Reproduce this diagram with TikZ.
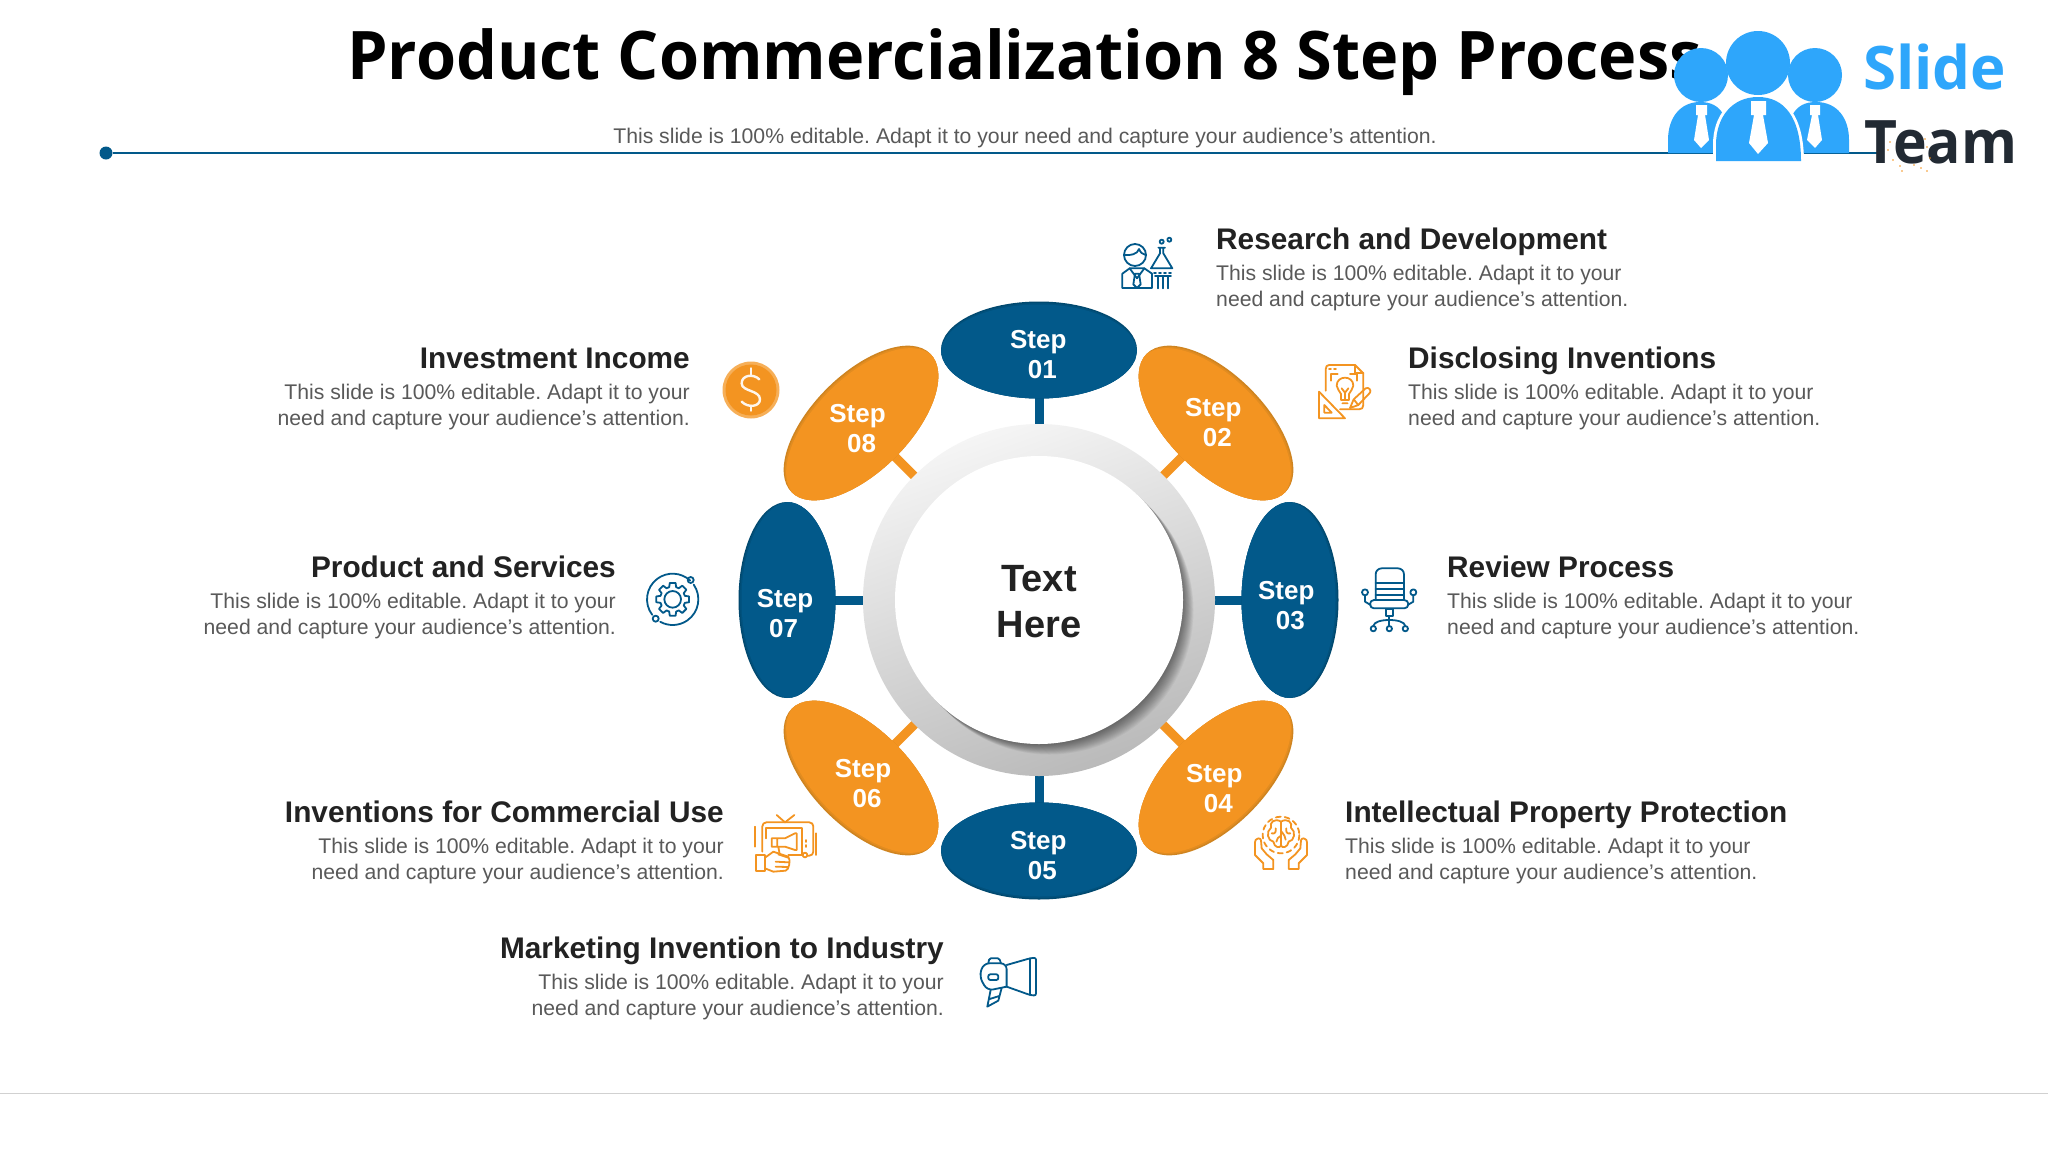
\documentclass[tikz,border=0pt]{standalone}
\usepackage{fontspec}
\setmainfont{Liberation Sans}
\newfontfamily\headfont{Open Sans}
\newfontfamily\titlefont[FakeStretch=0.967]{Open Sans}
\newfontfamily\logofont[FakeStretch=0.95]{Open Sans}
\usetikzlibrary{shapes.geometric,backgrounds,calc}
\definecolor{stepblue}{HTML}{02598A}
\definecolor{stepblueedge}{HTML}{01496F}
\definecolor{steporange}{HTML}{F39421}
\definecolor{steporangeedge}{HTML}{CF8420}
\definecolor{headtext}{HTML}{222222}
\definecolor{bodytext}{HTML}{595959}
\definecolor{logoblue}{HTML}{2EA6FB}
\definecolor{logodark}{HTML}{222A33}
\tikzset{
  blob/.style={ellipse,inner sep=0pt,minimum width=196pt,minimum height=97pt},
  steptext/.style={text=white,font=\fontsize{26}{30}\selectfont\bfseries,align=center,inner sep=0pt},
  lbltitle/.style={text=headtext,font=\fontsize{29.8}{34}\selectfont\bfseries,inner sep=0pt},
  lblbody/.style={text=bodytext,font=\fontsize{21.2}{26}\selectfont\frenchspacing,inner sep=0pt},
  icb/.style={draw=stepblue,line width=1.8pt,line join=round,line cap=round},
  ico/.style={draw=steporange,line width=1.8pt,line join=round,line cap=round},
  tie/.style={fill=white,draw=none},
}
\newcommand{\stepblob}[8]{%
  \node[blob,fill=#6,rotate=#4] (#1) at (#2,#3) {};
  \begin{scope}
    \clip[rotate around={#4:(#2,#3)}] (#2,#3) ellipse [x radius=98,y radius=48.5];
    \node[blob,fill=#5,rotate=#4,opacity=.55] at ({#2+#7*.5},{#3+#8*.5}) {};
    \node[blob,fill=#5,rotate=#4] at ({#2+#7},{#3+#8}) {};
  \end{scope}}
\newcommand{\stepword}[5]{\node[steptext] (#1) at (#2,#3) {Step\\\hspace*{#5}#4};}
\newcommand{\lblL}[4]{%
  \node[lbltitle,anchor=base west] (#1t) at (#2,#3) {#4};
  \node[lblbody,anchor=north west,align=left] (#1b) at (#2,#3+15.5) {This slide is 100\% editable. Adapt it to your\\need and capture your audience’s attention.};}
\newcommand{\lblR}[4]{%
  \node[lbltitle,anchor=base east] (#1t) at (#2,#3) {#4};
  \node[lblbody,anchor=north east,align=right] (#1b) at (#2,#3+15.5) {This slide is 100\% editable. Adapt it to your\\need and capture your audience’s attention.};}
\begin{document}
\begin{tikzpicture}[x=1pt,y=-1pt]
\useasboundingbox (0,0) rectangle (2048,1152);
\begin{pgfonlayer}{background}
\fill[white] (0,0) rectangle (2048,1152);
\end{pgfonlayer}

% heading
\node[anchor=base west,inner sep=0pt,font=\titlefont\fontsize{67}{70}\selectfont\bfseries,text=black] (title) at (347,79) {Product Commercialization 8 Step Process};
\node[anchor=base,inner sep=0pt,font=\fontsize{21.2}{26}\selectfont\frenchspacing,text=bodytext] (subtitle) at (1025,143) {This slide is 100\% editable. Adapt it to your need and capture your audience’s attention.};
\node[circle,fill=stepblue,inner sep=0pt,minimum size=13pt] (dot) at (106,153) {};
\coordinate (lineend) at (1878,153);
\draw[stepblue,line width=2.4pt] (dot) -- (lineend);
\coordinate (fl) at (0,1093.5);
\coordinate (fr) at (2048,1093.5);
\draw[black!18,line width=1.3pt] (fl) -- (fr);

% central ring
\node[circle,inner sep=0pt,minimum size=352pt,top color=black!4,bottom color=black!27,shading angle=20] (ring) at (1039,600) {};
\begin{scope}
  \clip (1039,600) circle (176);
  \foreach \i in {14,...,1}{\fill[black,opacity=.04] ({1039+\i*.75},{600+\i*.75}) circle (144);}
\end{scope}
\node[circle,fill=white,inner sep=0pt,minimum size=288pt] (hub) at (1039,600) {};
\node[text=headtext,font=\fontsize{38}{46}\selectfont\bfseries,align=center,inner sep=0pt] (hubtext) at (1039,602) {Text\\Here};

% steps
\stepblob{s1}{1039}{350}{0}{stepblue}{stepblueedge}{0}{3}
\stepblob{s2}{1216}{423}{-45}{steporange}{steporangeedge}{-2.5}{2.5}
\stepblob{s3}{1290}{600}{90}{stepblue}{stepblueedge}{-3}{0}
\stepblob{s4}{1216}{778}{45}{steporange}{steporangeedge}{-2.5}{-2.5}
\stepblob{s5}{1039}{851}{0}{stepblue}{stepblueedge}{0}{-3}
\stepblob{s6}{861}{778}{-45}{steporange}{steporangeedge}{2.5}{-2.5}
\stepblob{s7}{787}{600}{90}{stepblue}{stepblueedge}{3}{0}
\stepblob{s8}{861}{423}{45}{steporange}{steporangeedge}{2.5}{2.5}

\begin{pgfonlayer}{background}
\foreach \n in {s1,s3,s5,s7}{\draw[stepblue,line width=9pt,shorten <=-3pt,shorten >=-3pt] (ring) -- (\n);}
\foreach \n in {s2,s4,s6,s8}{\draw[steporange,line width=9pt,shorten <=-3pt,shorten >=-3pt] (ring) -- (\n);}
\end{pgfonlayer}

\stepword{w1}{1038.3}{355}{01}{8pt}
\stepword{w2}{1213.3}{423}{02}{8pt}
\stepword{w3}{1286.3}{606}{03}{8pt}
\stepword{w4}{1214.3}{789}{04}{8pt}
\stepword{w5}{1038.3}{855.5}{05}{8pt}
\stepword{w6}{863}{783.5}{06}{8pt}
\stepword{w7}{785}{614}{07}{-3pt}
\stepword{w8}{857.5}{429}{08}{8pt}

% labels
\lblL{a}{1216}{249}{Research and Development}
\lblL{b}{1408}{368}{Disclosing Inventions}
\lblL{c}{1447}{577}{Review Process}
\lblL{d}{1345}{822}{Intellectual Property Protection}
\lblR{e}{944}{958}{Marketing Invention to Industry}
\lblR{f}{724}{822}{Inventions for Commercial Use}
\lblR{g}{616}{577}{Product and Services}
\lblR{h}{690}{368}{Investment Income}

% research icon
\begin{scope}[shift={(1105,225)},x=0.3333pt,y=-0.3333pt]
  \draw[icb] (90,90) circle (33);
  \draw[icb] (58,90) .. controls (75,92) and (98,88) .. (102,72) .. controls (106,82) and (112,88) .. (122,90);
  \draw[icb] (52,189) -- (52,146) -- (74,130) -- (118,130) -- (141,146) -- (141,189) -- cycle;
  \draw[icb] (74,130) -- (96,160) -- (118,130);
  \draw[icb] (90,146) -- (102,146) -- (107,178) -- (96,189) -- (85,178) -- cycle;
  \draw[icb] (160,68) -- (180,68) (165,68) -- (165,85) -- (138,130) -- (202,130) -- (175,85) -- (175,68);
  \draw[icb] (170,50) circle (6) (193,44) circle (6);
  \draw[icb,dash pattern=on 2pt off 3pt] (147,143) -- (198,143);
  \draw[icb] (150,153) -- (198,153) (160,153) -- (160,190) (175,153) -- (175,190) (188,153) -- (188,190);
\end{scope}

% ideas icon
\begin{scope}[shift={(1305,350)},x=0.3333pt,y=-0.3333pt]
  \draw[ico] (62,122) -- (62,58) .. controls (62,50) and (66,45) .. (72,45) -- (150,45) -- (175,70) -- (175,165) .. controls (175,174) and (170,178) .. (162,178) -- (105,178);
  \draw[ico] (150,45) -- (150,68) -- (175,68);
  \draw[ico,dash pattern=on 2pt off 3pt] (72,58) -- (98,58);
  \draw[ico] (78,92) -- (78,72) -- (98,72) (135,72) -- (155,72) -- (155,92);
  \draw[ico] (108,132) .. controls (105,122) and (95,118) .. (95,107) .. controls (95,75) and (145,75) .. (145,107) .. controls (145,118) and (135,122) .. (132,132) -- (132,150) -- (108,150) -- cycle;
  \draw[ico] (112,160) -- (128,160) (110,115) -- (120,128) -- (130,115) (120,128) -- (120,150);
  \draw[ico] (42,125) -- (42,205) -- (120,205) -- cycle (58,165) -- (58,188) -- (80,188) -- cycle;
  \draw[ico] (135,174) -- (146,148) -- (182,115) .. controls (190,110) and (200,120) .. (195,128) -- (160,165) -- cycle (146,148) -- (160,165);
\end{scope}

% chair icon
\begin{scope}[shift={(1240,540)},x=0.3333pt,y=-0.3333pt]
  \draw[icb,rounded corners=6pt] (407,180) -- (407,85) -- (492,85) -- (492,180);
  \draw[icb] (407,130) -- (492,130) (407,148) -- (492,148) (407,165) -- (492,165);
  \draw[icb,rounded corners=4pt] (390,180) rectangle (505,205);
  \draw[icb] (375,166) -- (375,185) -- (392,195) (520,166) -- (520,185) -- (503,195);
  \draw[icb] (375,157) circle (9) (520,157) circle (9);
  \draw[icb] (437,207) rectangle (460,228) (448,228) -- (448,258);
  \draw[icb] (400,258) .. controls (402,245) and (425,240) .. (448,240) .. controls (471,240) and (494,245) .. (496,258);
  \draw[icb] (400,266) circle (8) (448,266) circle (8) (496,266) circle (8);
\end{scope}

% brain and hands icon
\begin{scope}[shift={(1245,805)},x=0.3333pt,y=-0.3333pt]
  \draw[ico,dash pattern=on 5pt off 4pt] (108,90) circle (55);
  \draw[ico] (108,50) .. controls (90,38) and (72,52) .. (78,68) .. controls (62,80) and (68,108) .. (85,110) .. controls (88,128) and (104,130) .. (108,122) -- cycle;
  \draw[ico] (108,50) .. controls (126,38) and (144,52) .. (138,68) .. controls (154,80) and (148,108) .. (131,110) .. controls (128,128) and (112,130) .. (108,122);
  \draw[ico] (80,85) .. controls (90,88) and (94,80) .. (92,70) (94,110) .. controls (96,100) and (100,96) .. (108,92) (136,85) .. controls (126,88) and (122,80) .. (124,70) (122,104) .. controls (122,96) and (116,88) .. (108,78);
  \draw[ico] (40,100) .. controls (32,102) and (30,106) .. (30,112) -- (30,150) -- (55,175) -- (55,192) -- (85,192) -- (85,165) -- (65,148) -- (50,130) -- (48,106) .. controls (48,102) and (44,100) .. (40,100) -- cycle;
  \draw[ico] (176,100) .. controls (184,102) and (186,106) .. (186,112) -- (186,150) -- (161,175) -- (161,192) -- (131,192) -- (131,165) -- (151,148) -- (166,130) -- (168,106) .. controls (168,102) and (172,100) .. (176,100) -- cycle;
\end{scope}

% tv icon
\begin{scope}[shift={(745,805)},x=0.3333pt,y=-0.3333pt]
  \draw[ico] (95,30) -- (120,52) -- (148,30);
  \draw[ico,rounded corners=4pt] (52,140) -- (52,52) -- (205,52) -- (205,152) -- (188,152);
  \draw[ico] (30,65) -- (30,125) (214,85) -- (214,150);
  \draw[ico] (62,100) -- (62,68) -- (172,68) -- (172,150) -- (130,150);
  \draw[ico,dash pattern=on 2pt off 3pt] (184,105) -- (184,132);
  \draw[ico] (180,150) circle (7);
  \draw[ico] (80,100) -- (120,100) -- (150,85) -- (155,85) -- (155,135) -- (150,135) -- (120,125) -- (80,125) -- cycle (97,100) -- (97,125) (100,125) -- (104,148);
  \draw[ico] (32,150) rectangle (60,198);
  \draw[ico] (60,158) -- (85,140) -- (130,155) .. controls (138,165) and (132,195) .. (122,197) -- (85,200) -- (60,190) (100,148) -- (130,158) (92,170) -- (132,172) (92,185) -- (128,186);
\end{scope}

% gear icon
\begin{scope}[shift={(672.67,599.33)},x=0.3333pt,y=-0.3333pt]
  \draw[icb] (-16:38) \foreach \a in {0,45,...,315}{ -- ({\a-16}:38) -- ({\a-10}:50) -- ({\a+10}:50) -- ({\a+16}:38)} -- cycle;
  \draw[icb] (0,0) circle (25);
  \draw[icb] (-35:77) arc[start angle=-35,end angle=119,radius=77];
  \draw[icb] (143:77) arc[start angle=143,end angle=313,radius=77];
  \draw[icb] (54,-58) circle (9) (-51,58) circle (9);
\end{scope}

% coin icon
\node[circle,fill=steporange!75!white,inner sep=0pt,minimum size=57pt] (coinrim) at (751,390) {};
\node[circle,fill=steporange,inner sep=0pt,minimum size=51pt] (coin) at (751,390) {};
\begin{scope}[shift={(620,340)},x=0.3333pt,y=-0.3333pt]
  \draw[white!92!steporange,line width=2.4pt,line cap=round] (418,118) .. controls (400,100) and (365,105) .. (365,130) .. controls (365,155) and (420,150) .. (420,178) .. controls (420,200) and (385,205) .. (365,185);
  \draw[white!92!steporange,line width=2.4pt,line cap=round] (393,85) -- (393,107) (393,197) -- (393,212);
\end{scope}

% megaphone icon
\begin{scope}[shift={(730,790)},x=0.3333pt,y=-0.3333pt]
  \draw[icb,rounded corners=2pt] (830,525) -- (900,505) -- (918,503) -- (918,617) -- (900,615) -- (830,590);
  \draw[icb] (900,505) -- (900,615);
  \draw[icb,rounded corners=6pt] (830,590) -- (830,520) -- (760,520) -- (748,560) -- (772,602) -- (830,590);
  \draw[icb,rounded corners=1.5pt] (775,520) -- (778,505) -- (808,505) -- (813,520);
  \draw[icb,rounded corners=2pt] (775,553) rectangle (805,570);
  \draw[icb] (782,600) -- (772,650) -- (805,632) -- (815,594) (776,628) -- (808,618);
\end{scope}

% logo
\begin{scope}
  \fill[logoblue] (1701,75) circle (27) (1815,75) circle (27);
  \fill[logoblue] (1668,153) -- (1668,140) .. controls (1668,118) and (1680,102) .. (1700,102) .. controls (1722,102) and (1730,118) .. (1730,153) -- cycle;
  \fill[logoblue] (1849,153) -- (1849,140) .. controls (1849,118) and (1837,102) .. (1816,102) .. controls (1794,102) and (1786,118) .. (1786,153) -- cycle;
  \fill[tie] (1696,105) -- (1707,105) -- (1707,115) -- (1705,115) -- (1709,140) -- (1701,148) -- (1694,140) -- (1698,115) -- (1696,115) -- cycle;
  \fill[tie] (1810,105) -- (1820,105) -- (1820,115) -- (1818,115) -- (1822,140) -- (1815,148) -- (1807,140) -- (1812,115) -- (1810,115) -- cycle;
  \fill[white] (1713,163) -- (1713,145) .. controls (1713,115) and (1730,95) .. (1758,95) .. controls (1786,95) and (1804,115) .. (1804,163) -- cycle;
  \fill[logoblue] (1758,63) circle (32);
  \fill[logoblue] (1716,161) -- (1716,145) .. controls (1716,117) and (1732,97) .. (1758,97) .. controls (1784,97) and (1801,117) .. (1801,161) -- cycle;
  \fill[tie] (1751,101) -- (1766,101) -- (1766,115) -- (1763,115) -- (1768,143) -- (1758,154) -- (1749,143) -- (1754,115) -- (1751,115) -- cycle;
\end{scope}
\node[anchor=base west,inner sep=0pt,font=\headfont\fontsize{60}{70}\selectfont\bfseries,text=logoblue] (logoa) at (1863,89) {Slide};
\node[anchor=base west,inner sep=0pt,font=\logofont\fontsize{60}{70}\selectfont\bfseries,text=logodark] (logob) at (1864,163) {Team};
\foreach \px/\py in {1888/150,1893/160,1900/166,1902/171,1914/165,1921/168,1927/171,1930/158,1927/147,1925/139,1890/142}{\fill[steporange] (\px,\py) circle (.8);}
\end{tikzpicture}
\end{document}
